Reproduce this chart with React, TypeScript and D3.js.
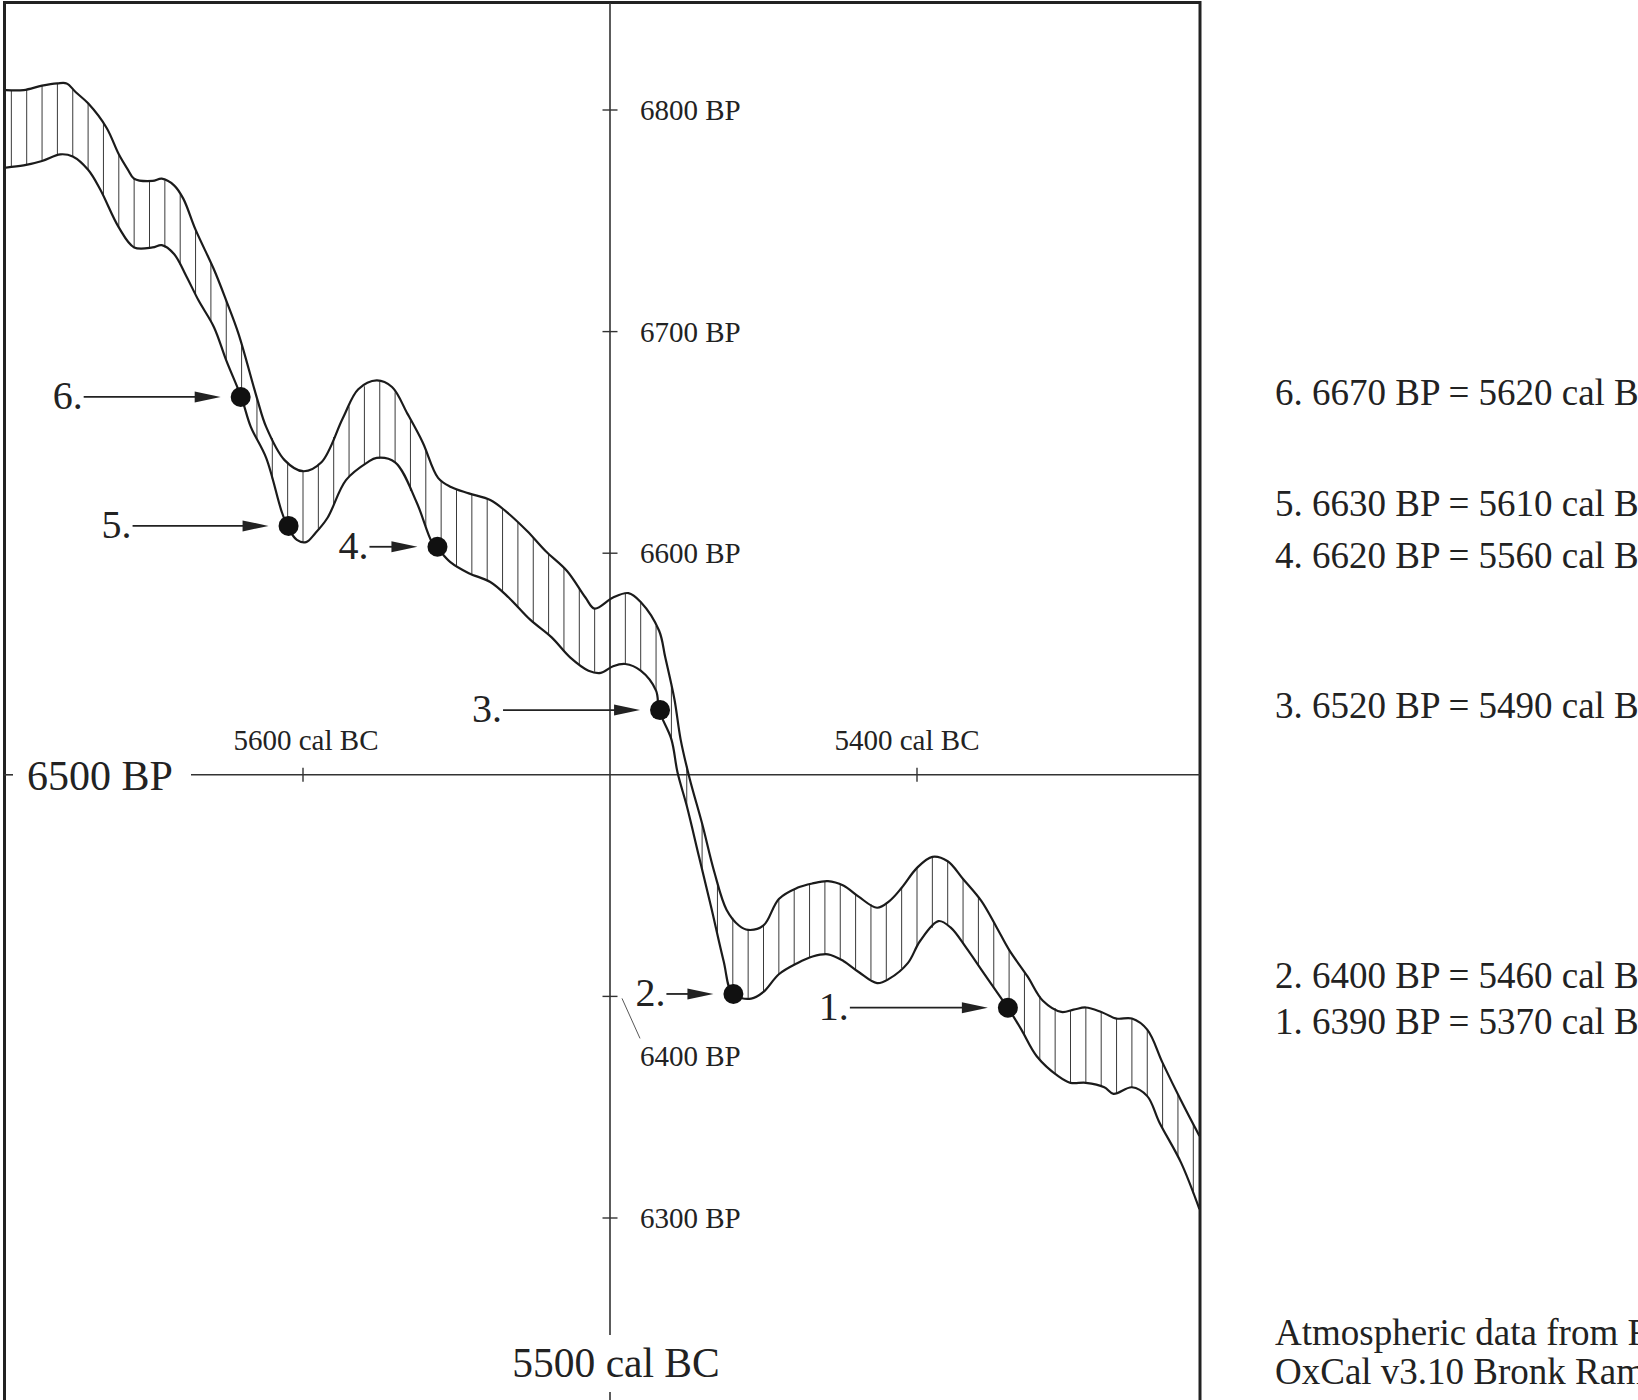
import * as d3 from "d3";

// Radiocarbon calibration curve: upper and lower bounds.
const upperCal = [
  5697, 5691, 5685, 5680, 5677, 5674, 5670, 5664, 5660, 5657, 5655, 5649, 5646, 5642, 5639, 5635, 5629,
  5625, 5621, 5615, 5612, 5606, 5600, 5594, 5587, 5582, 5576, 5571, 5566, 5561, 5556, 5552, 5546, 5539,
  5534, 5527, 5521, 5514, 5508, 5505, 5499, 5494, 5490, 5484, 5482, 5479, 5477, 5474, 5470, 5466, 5462,
  5458, 5455, 5450, 5445, 5439, 5434, 5429, 5424, 5419, 5413, 5409, 5405, 5400, 5395, 5390, 5385, 5379,
  5374, 5370, 5364, 5359, 5353, 5349, 5345, 5340, 5335, 5330, 5325, 5320, 5314, 5308,
];
const upperBP = [
  6809, 6809, 6811, 6812, 6812, 6808, 6803, 6792, 6780, 6773, 6769, 6768, 6769, 6766, 6760, 6746, 6728,
  6714, 6699, 6670, 6657, 6642, 6637, 6641, 6661, 6674, 6678, 6675, 6663, 6650, 6634, 6630, 6627, 6624,
  6619, 6610, 6601, 6592, 6580, 6575, 6580, 6582, 6578, 6565, 6553, 6534, 6516, 6498, 6478, 6456, 6439,
  6432, 6430, 6432, 6444, 6449, 6451, 6452, 6450, 6445, 6440, 6443, 6449, 6458, 6463, 6461, 6453, 6443,
  6431, 6421, 6409, 6398, 6393, 6394, 6395, 6393, 6390, 6390, 6385, 6370, 6353, 6337,
];
const lowerCal = [
  5697, 5691, 5685, 5679, 5675, 5670, 5666, 5660, 5655, 5649, 5646, 5642, 5638, 5634, 5629, 5625, 5620,
  5617, 5612, 5607, 5605, 5602, 5599, 5596, 5592, 5586, 5579, 5576, 5570, 5563, 5558, 5556, 5552, 5546,
  5539, 5533, 5526, 5519, 5513, 5507, 5503, 5499, 5495, 5490, 5485, 5484, 5480, 5478, 5475, 5471, 5467,
  5463, 5460, 5454, 5450, 5445, 5439, 5434, 5429, 5424, 5419, 5413, 5409, 5403, 5399, 5393, 5389, 5384,
  5379, 5373, 5370, 5366, 5361, 5354, 5350, 5345, 5339, 5336, 5330, 5325, 5321, 5314, 5308,
];
const lowerBP = [
  6774, 6775, 6777, 6780, 6779, 6773, 6764, 6747, 6738, 6738, 6739, 6735, 6725, 6714, 6702, 6687, 6670,
  6657, 6643, 6619, 6612, 6606, 6605, 6609, 6616, 6633, 6641, 6643, 6641, 6623, 6605, 6602, 6596, 6591,
  6587, 6580, 6570, 6562, 6553, 6547, 6546, 6549, 6550, 6547, 6538, 6529, 6516, 6501, 6486, 6463, 6440,
  6416, 6401, 6399, 6402, 6410, 6415, 6418, 6419, 6416, 6411, 6406, 6408, 6415, 6425, 6434, 6431, 6422,
  6412, 6400, 6394, 6385, 6373, 6364, 6361, 6361, 6359, 6356, 6359, 6355, 6343, 6325, 6304,
];

// Dated samples: listed values (legend) and where the dots sit on the curve.
const sampleLabels = ["6", "5", "4", "3", "2", "1"];
const sampleBP = [6670, 6630, 6620, 6520, 6400, 6390];
const sampleCal = [5620, 5610, 5560, 5490, 5460, 5370];
const dotBP = [6670.5, 6612.3, 6602.9, 6529.2, 6401.1, 6394.9];
const dotCal = [5620.3, 5604.7, 5556.2, 5483.7, 5459.8, 5370.4];

const calTicks = [5600, 5400];
const bpTicks = [6800, 6700, 6600, 6400, 6300];
const originCal = 5500;
const originBP = 6500;
const captionLines = [
  "Atmospheric data from Reimer et al (2004);",
  "OxCal v3.10 Bronk Ramsey (2005); cub r:5 sd:12 prob usp[chron]",
];

// Layout
const W = 1638;
const H = 1400;
const FRAME_R = 1200;
const FONT = "'Liberation Serif', 'Times New Roman', serif";
const INK = "#222";
const ARROW_LEN: Record<string, number> = { "6": 137, "5": 136, "4": 48, "3": 137, "2": 47, "1": 138 };
const CAL_LABEL_DX: Record<number, number> = { 5600: 3, 5400: -10 };
const LEGEND_BASE = [405, 516, 568, 718, 988, 1034];
const CAPTION_BASE = [1345, 1384];

export default function App() {
  const x = d3.scaleLinear().domain([5600, 5400]).range([303, 917]);
  const y = d3.scaleLinear().domain([6800, 6300]).range([110, 1218]);
  const x0 = x(originCal);
  const y0 = y(originBP);

  const linea = d3
    .line<[number, number]>()
    .x((d) => x(d[0]))
    .y((d) => y(d[1]))
    .curve(d3.curveCatmullRom.alpha(0.5));

  const upper = upperCal.map((c, i) => [c, upperBP[i]] as [number, number]);
  const lower = lowerCal.map((c, i) => [c, lowerBP[i]] as [number, number]);

  const upperAt = d3.scaleLinear().domain(upperCal).range(upperBP);
  const lowerAt = d3.scaleLinear().domain(lowerCal).range(lowerBP);
  const hatchCal = d3.range(5695, 5307, -5);

  return (
    <svg
      width={W}
      height={H}
      viewBox={`0 0 ${W} ${H}`}
      style={{ position: "absolute", left: 0, top: 0, background: "#fff" }}
      fontFamily={FONT}
    >
      <defs>
        <clipPath id="marco">
          <rect x={6} y={4} width={FRAME_R - 7} height={H} />
        </clipPath>
      </defs>

      {/* frame */}
      <rect x={4.5} y={2.5} width={FRAME_R - 4.5} height={H + 40} fill="none" stroke={INK} strokeWidth={3} />

      {/* axes */}
      <line x1={x0} x2={x0} y1={3} y2={1335} stroke="#333" strokeWidth={1.6} />
      <line x1={x0} x2={x0} y1={1392} y2={H} stroke="#333" strokeWidth={1.6} />
      <line x1={191} x2={FRAME_R} y1={y0} y2={y0} stroke="#333" strokeWidth={1.6} />
      <line x1={4} x2={13} y1={y0} y2={y0} stroke="#333" strokeWidth={1.6} />

      {bpTicks.map((bp) => (
        <g key={bp}>
          <line x1={x0 - 7.5} x2={x0 + 7.5} y1={y(bp)} y2={y(bp)} stroke="#333" strokeWidth={1.4} />
          {bp === 6400 ? (
            <>
              <line x1={x0 + 12} x2={x0 + 30} y1={y(bp) + 2} y2={y(bp) + 42} stroke="#444" strokeWidth={0.9} />
              <text x={x0 + 30} y={y(bp) + 70} fontSize={29} fill={INK}>
                {bp} BP
              </text>
            </>
          ) : (
            <text x={x0 + 30} y={y(bp) + 10} fontSize={29} fill={INK}>
              {bp} BP
            </text>
          )}
        </g>
      ))}

      {calTicks.map((c) => (
        <g key={c}>
          <line x1={x(c)} x2={x(c)} y1={y0 - 7} y2={y0 + 7} stroke="#333" strokeWidth={1.4} />
          <text x={x(c) + (CAL_LABEL_DX[c] ?? 0)} y={y0 - 25} fontSize={29} textAnchor="middle" fill={INK}>
            {c} cal BC
          </text>
        </g>
      ))}

      <text x={27} y={y0 + 15} fontSize={42} fill={INK}>
        {originBP} BP
      </text>
      <text x={x0 + 6} y={1377} fontSize={41.5} textAnchor="middle" fill={INK}>
        {originCal} cal BC
      </text>

      {/* calibration band */}
      <g clipPath="url(#marco)">
        {hatchCal.map((c) => (
          <line
            key={c}
            x1={x(c)}
            x2={x(c)}
            y1={y(upperAt(c))}
            y2={y(lowerAt(c))}
            stroke="#3a3a3a"
            strokeWidth={1}
          />
        ))}
        <path d={linea(upper) ?? ""} fill="none" stroke="#1b1b1b" strokeWidth={2.2} />
        <path d={linea(lower) ?? ""} fill="none" stroke="#1b1b1b" strokeWidth={2.2} />
      </g>

      {/* samples */}
      {sampleLabels.map((lab, i) => {
        const cx = x(dotCal[i]);
        const cy = y(dotBP[i]);
        const tip = cx - 20;
        const start = tip - ARROW_LEN[lab];
        return (
          <g key={lab}>
            <line x1={start} x2={tip - 20} y1={cy} y2={cy} stroke={INK} strokeWidth={1.8} />
            <path d={`M${tip - 26},${cy - 5.5}L${tip},${cy}L${tip - 26},${cy + 5.5}Z`} fill={INK} />
            <circle cx={cx} cy={cy} r={10} fill="#111" />
            <text x={start - 31} y={cy + 12} fontSize={40} fill={INK}>
              {lab}.
            </text>
          </g>
        );
      })}

      {/* legend */}
      {sampleLabels.map((lab, i) => (
        <text key={lab} x={1275} y={LEGEND_BASE[i]} fontSize={37} fill={INK}>
          {`${lab}. ${sampleBP[i]} BP = ${sampleCal[i]} cal BC`}
        </text>
      ))}
      {captionLines.map((t, i) => (
        <text key={i} x={1275} y={CAPTION_BASE[i]} fontSize={37} fill={INK}>
          {t}
        </text>
      ))}
    </svg>
  );
}
